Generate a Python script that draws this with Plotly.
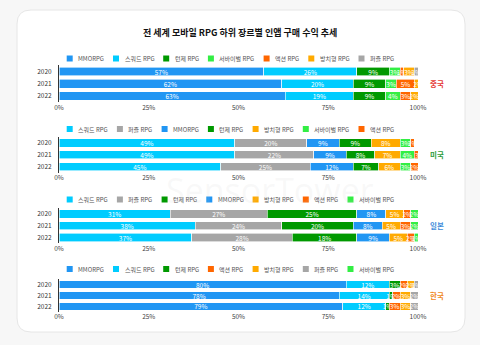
import plotly.graph_objects as go

W, H = 480, 345
years = ["2020", "2021", "2022"]

colors = {
    "MMORPG": "#2196F3",
    "스쿼드 RPG": "#00CCFF",
    "턴제 RPG": "#009900",
    "서바이벌 RPG": "#33EE44",
    "액션 RPG": "#FF6600",
    "방치형 RPG": "#FFAA00",
    "퍼즐 RPG": "#A6A6A6",
}

# China
china_order = ["MMORPG", "스쿼드 RPG", "턴제 RPG", "서바이벌 RPG", "액션 RPG", "방치형 RPG", "퍼즐 RPG"]
china_mmorpg = [57, 62, 63]
china_squad = [26, 20, 19]
china_turn = [9, 9, 9]
china_survival = [3, 3, 4]
china_action = [1, 5, 3]
china_idle = [3, 2, 2]
china_puzzle = [1, 0, 0]

# USA
us_order = ["스쿼드 RPG", "퍼즐 RPG", "MMORPG", "턴제 RPG", "방치형 RPG", "서바이벌 RPG", "액션 RPG"]
us_squad = [49, 49, 45]
us_puzzle = [20, 22, 25]
us_mmorpg = [9, 9, 12]
us_turn = [9, 8, 7]
us_idle = [8, 7, 6]
us_survival = [3, 4, 3]
us_action = [1, 3, 2]

# Japan
jp_order = ["스쿼드 RPG", "퍼즐 RPG", "턴제 RPG", "MMORPG", "방치형 RPG", "액션 RPG", "서바이벌 RPG"]
jp_squad = [31, 38, 37]
jp_puzzle = [27, 24, 28]
jp_turn = [25, 20, 18]
jp_mmorpg = [8, 8, 9]
jp_idle = [5, 5, 5]
jp_action = [2, 3, 2]
jp_survival = [2, 2, 1]

# Korea
kr_order = ["MMORPG", "스쿼드 RPG", "턴제 RPG", "액션 RPG", "방치형 RPG", "퍼즐 RPG", "서바이벌 RPG"]
kr_mmorpg = [80, 78, 79]
kr_squad = [12, 14, 12]
kr_turn = [3, 1, 1]
kr_action = [2, 2, 3]
kr_idle = [2, 3, 3]
kr_puzzle = [1, 2, 2]
kr_survival = [0, 0, 0]

panels = [
    ("중국", "#E53935", china_order,
     [china_mmorpg, china_squad, china_turn, china_survival, china_action, china_idle, china_puzzle]),
    ("미국", "#2E9E3A", us_order,
     [us_squad, us_puzzle, us_mmorpg, us_turn, us_idle, us_survival, us_action]),
    ("일본", "#3D8BD9", jp_order,
     [jp_squad, jp_puzzle, jp_turn, jp_mmorpg, jp_idle, jp_action, jp_survival]),
    ("한국", "#F08A24", kr_order,
     [kr_mmorpg, kr_squad, kr_turn, kr_action, kr_idle, kr_puzzle, kr_survival]),
]

FONT = "Noto Sans CJK KR"
plot_px = [(65.4, 102.1), (137.2, 172.5), (208.1, 243.4), (279.2, 311.9)]
legend_px = [58.5, 129, 199.5, 269]
x0_px, x1_px = 59, 418

def py(p):
    return 1 - p / H

def px(p):
    return p / W

fig = go.Figure()
layout = dict()
shapes = []
annotations = []

def text_w(s):
    w = 0
    for ch in s:
        if '\uac00' <= ch <= '\ud7a3':
            w += 5.5
        elif ch == ' ':
            w += 1.6
        elif ch == 'M':
            w += 5.0
        else:
            w += 4.2
    return w

for i, (region, rcol, order, series) in enumerate(panels):
    ax = "" if i == 0 else str(i + 1)
    for name, vals in zip(order, series):
        fig.add_trace(go.Bar(
            y=years, x=vals, orientation="h", name=name,
            marker=dict(color=colors[name], line=dict(color="white", width=0.6)),
            text=[f"{v}%" if v > 0 else "" for v in vals],
            textposition="inside", insidetextanchor="middle", textangle=0,
            constraintext="none",
            textfont=dict(color="white", size=6.5, family=FONT),
            xaxis="x" + ax, yaxis="y" + ax, showlegend=False,
            hoverinfo="skip",
        ))
    top, bot = plot_px[i]
    layout["xaxis" + ax] = dict(
        domain=[px(x0_px), px(x1_px)], anchor="y" + ax, range=[0, 100],
        tickvals=[0, 25, 50, 75, 100], ticktext=["0%", "25%", "50%", "75%", "100%"],
        showgrid=False, zeroline=False, showline=False, ticks="",
        tickfont=dict(size=6.5, color="#444", family=FONT), fixedrange=True,
        automargin=False,
    )
    layout["yaxis" + ax] = dict(
        domain=[py(bot), py(top)], anchor="x" + ax, autorange="reversed",
        type="category", showline=True, linecolor="#333", linewidth=1,
        showgrid=False, ticks="", ticklabelstandoff=5, automargin=False,
        tickfont=dict(size=6.5, color="#333", family=FONT),
    )
    annotations.append(dict(
        x=px(437), y=py((top + bot) / 2), xref="paper", yref="paper",
        xanchor="center", yanchor="middle",
        text=f"<b>{region}</b>", showarrow=False,
        font=dict(size=7.5, color=rcol, family=FONT),
    ))
    ly = legend_px[i]
    cx = 66.7
    for name in order:
        shapes.append(dict(
            type="rect", xref="paper", yref="paper",
            x0=px(cx), x1=px(cx + 6), y0=py(ly + 3), y1=py(ly - 3),
            fillcolor=colors[name], line=dict(width=0),
        ))
        annotations.append(dict(
            x=px(cx + 9.5), y=py(ly), xref="paper", yref="paper",
            xanchor="left", yanchor="middle", text=name, showarrow=False,
            font=dict(size=6, color="#555", family=FONT),
        ))
        cx = cx + 9.5 + text_w(name) + 10

r = 14
cl, cr, ct, cb = 17, 465, 10, 332
card_path = (
    f"M {px(cl + r)},{py(ct)} L {px(cr - r)},{py(ct)} "
    f"Q {px(cr)},{py(ct)} {px(cr)},{py(ct + r)} "
    f"L {px(cr)},{py(cb - r)} Q {px(cr)},{py(cb)} {px(cr - r)},{py(cb)} "
    f"L {px(cl + r)},{py(cb)} Q {px(cl)},{py(cb)} {px(cl)},{py(cb - r)} "
    f"L {px(cl)},{py(ct + r)} Q {px(cl)},{py(ct)} {px(cl + r)},{py(ct)} Z"
)
shapes.insert(0, dict(type="path", path=card_path, xref="paper", yref="paper",
                      fillcolor="white", line=dict(color="#E6E6E6", width=1),
                      layer="below"))

annotations.append(dict(
    x=0.5, y=py(32), xref="paper", yref="paper",
    xanchor="center", yanchor="middle",
    text="<b>전 세계 모바일 RPG 하위 장르별 인앱 구매 수익 추세</b>",
    showarrow=False, font=dict(size=9, color="#111", family=FONT),
))
annotations.append(dict(
    x=px(270), y=py(190), xref="paper", yref="paper",
    xanchor="center", yanchor="middle",
    text="SensorTower", showarrow=False,
    font=dict(size=34, color="rgba(200,200,200,0.12)", family="Open Sans"),
))

fig.update_layout(
    width=W, height=H, margin=dict(l=0, r=0, t=0, b=0),
    paper_bgcolor="#F7F7F7", plot_bgcolor="rgba(0,0,0,0)",
    barmode="stack", bargap=0.3, showlegend=False,
    uniformtext=dict(minsize=6.5, mode="show"),
    shapes=shapes, annotations=annotations,
    font=dict(family=FONT),
    **layout,
)

fig.write_html("out.html")
